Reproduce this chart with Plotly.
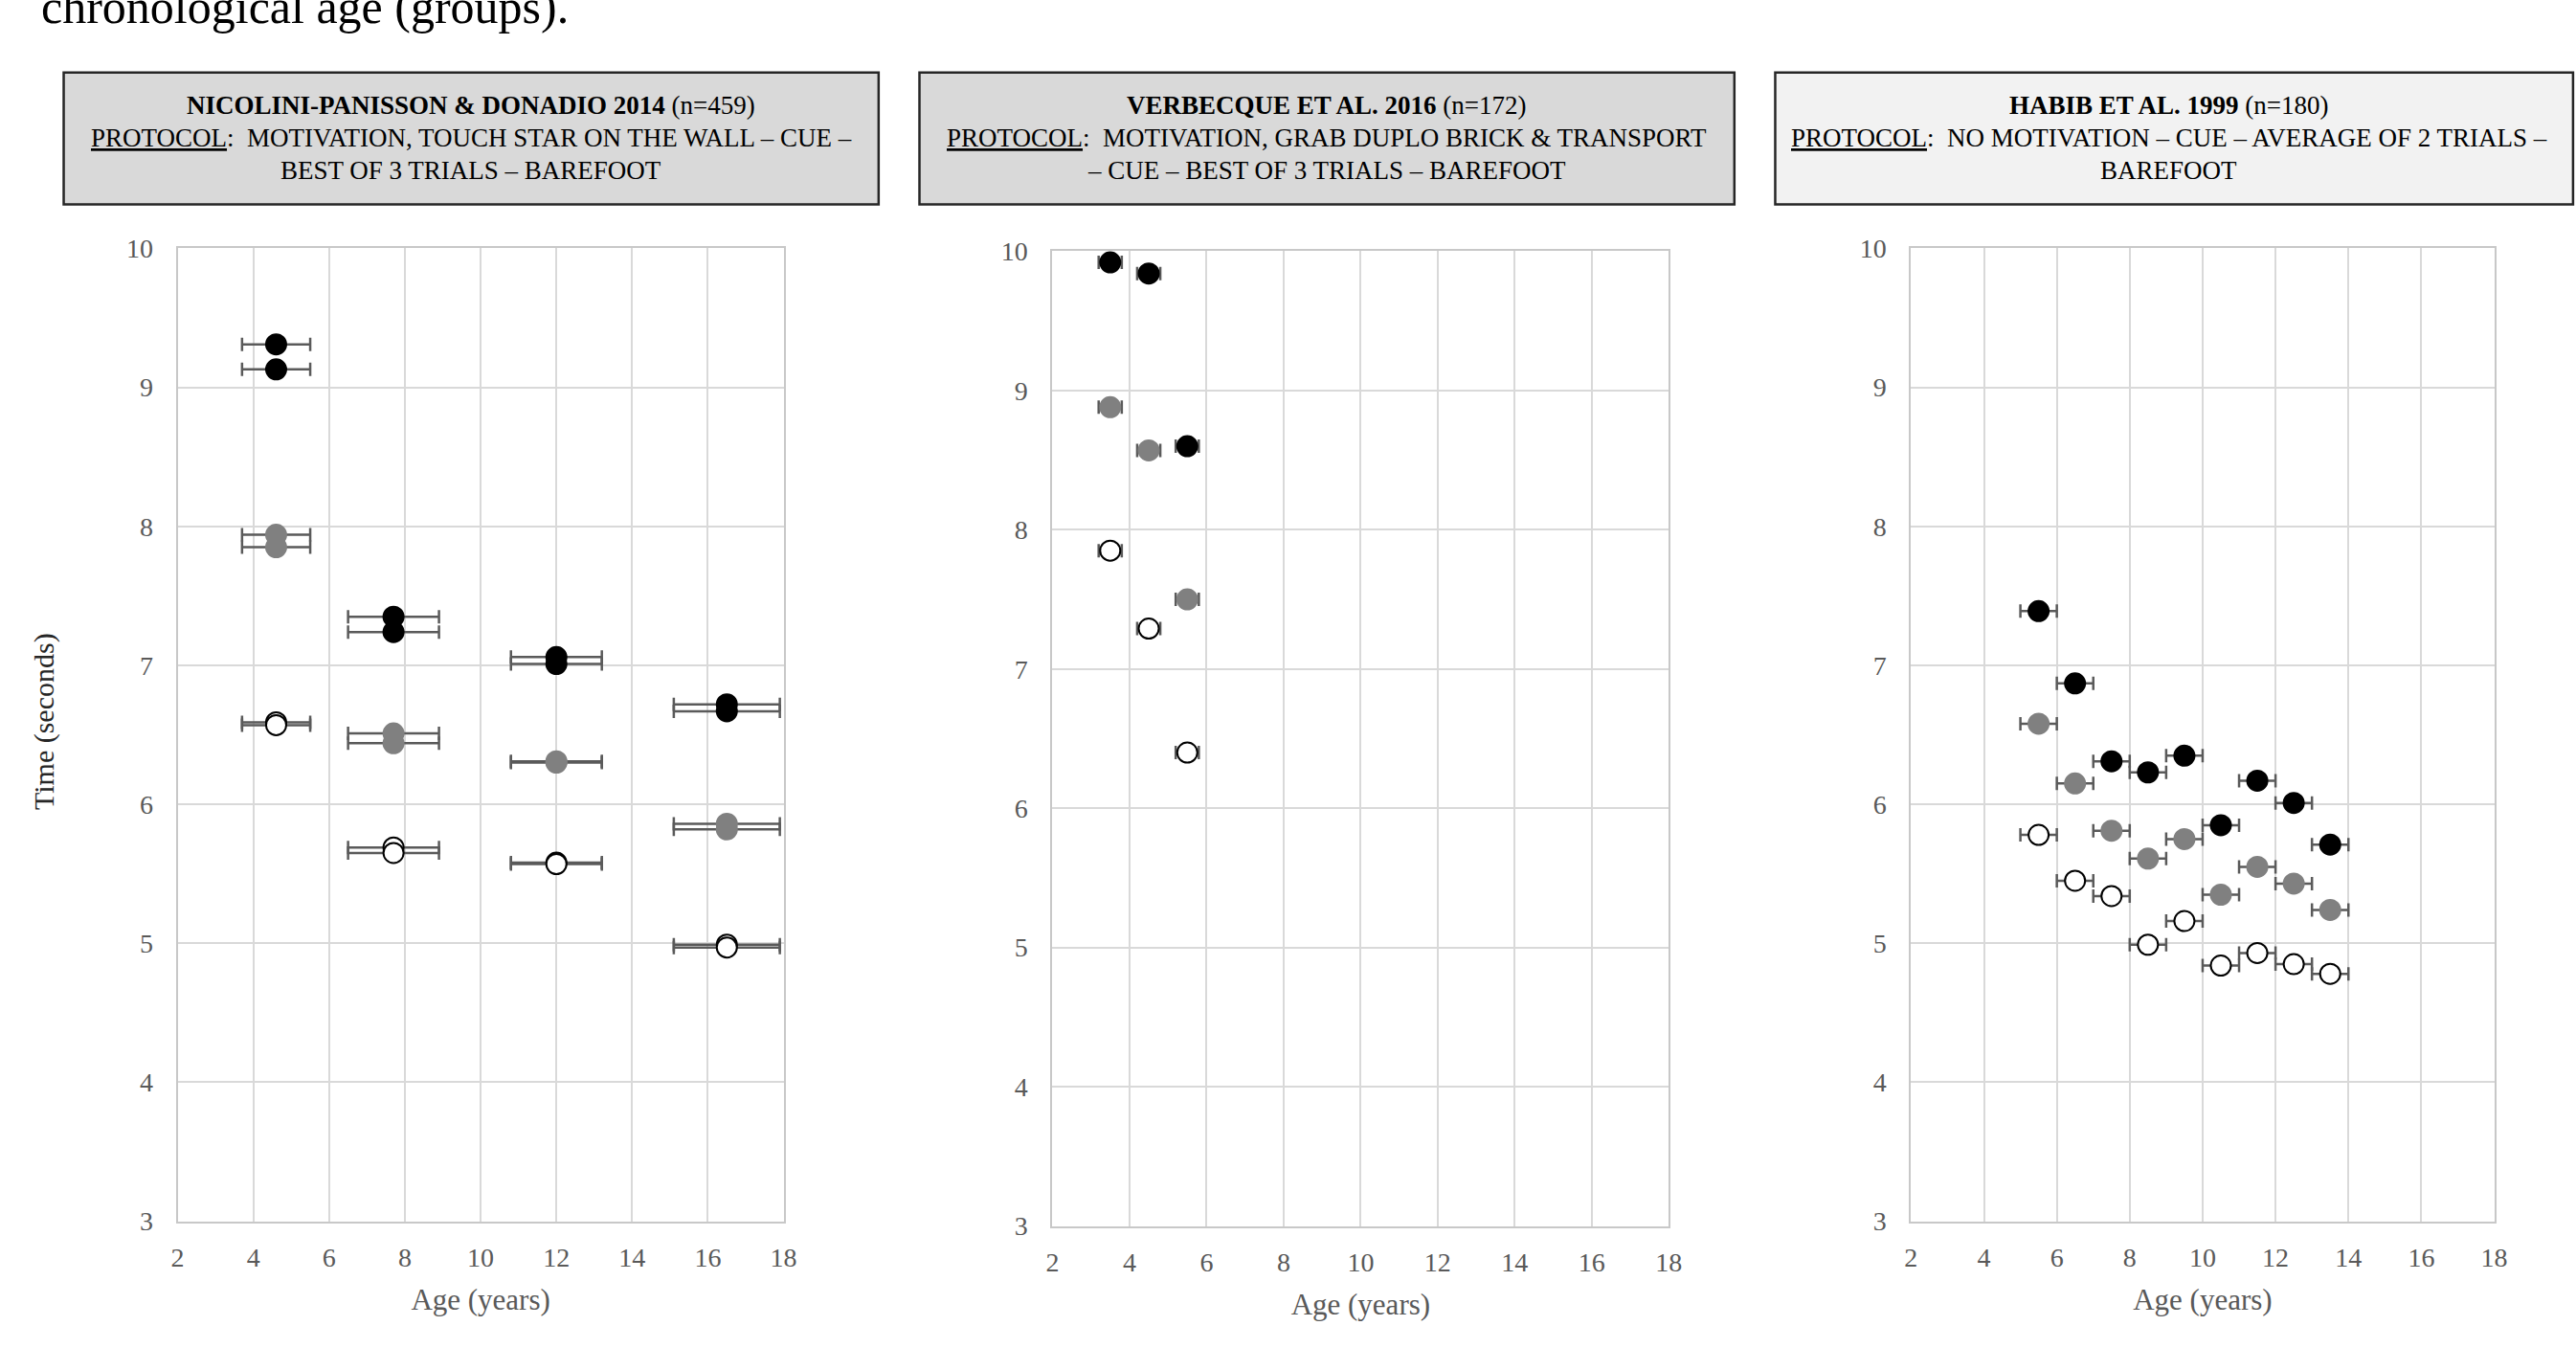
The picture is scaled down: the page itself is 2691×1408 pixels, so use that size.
import plotly.graph_objects as go

# ---- data ----
# panel 1: Nicolini-Panisson & Donadio 2014 (pairs of overlapping groups)
p1_age = [4.6, 4.6, 7.7, 7.7, 12.0, 12.0, 16.5, 16.5]
p1_age_err = [0.9, 0.9, 1.2, 1.2, 1.2, 1.2, 1.4, 1.4]
p1_black = [9.31, 9.13, 7.35, 7.24, 7.06, 7.01, 6.72, 6.67]
p1_gray = [7.94, 7.85, 6.51, 6.44, 6.31, 6.30, 5.86, 5.82]
p1_open = [6.59, 6.57, 5.69, 5.65, 5.58, 5.57, 4.99, 4.97]

# panel 2: Verbecque et al. 2016
p2_age = [3.5, 4.5, 5.5]
p2_age_err = [0.3, 0.3, 0.3]
p2_black = [9.92, 9.84, 8.60]
p2_gray = [8.88, 8.57, 7.50]
p2_open = [7.85, 7.29, 6.40]

# panel 3: Habib et al. 1999
p3_age = [5.5, 6.5, 7.5, 8.5, 9.5, 10.5, 11.5, 12.5, 13.5]
p3_age_err = [0.5, 0.5, 0.5, 0.5, 0.5, 0.5, 0.5, 0.5, 0.5]
p3_black = [7.39, 6.87, 6.31, 6.23, 6.35, 5.85, 6.17, 6.01, 5.71]
p3_gray = [6.58, 6.15, 5.81, 5.61, 5.75, 5.35, 5.55, 5.43, 5.24]
p3_open = [5.78, 5.45, 5.34, 4.99, 5.16, 4.84, 4.93, 4.85, 4.78]

x_ticks = [2, 4, 6, 8, 10, 12, 14, 16, 18]
y_ticks = [3, 4, 5, 6, 7, 8, 9, 10]

headers = [
    ("<b>NICOLINI-PANISSON & DONADIO 2014</b> (n=459)",
     "<u>PROTOCOL</u>:  MOTIVATION, TOUCH STAR ON THE WALL – CUE –",
     "BEST OF 3 TRIALS – BAREFOOT"),
    ("<b>VERBECQUE ET AL. 2016</b> (n=172)",
     "<u>PROTOCOL</u>:  MOTIVATION, GRAB DUPLO BRICK & TRANSPORT",
     "– CUE – BEST OF 3 TRIALS – BAREFOOT"),
    ("<b>HABIB ET AL. 1999</b> (n=180)",
     "<u>PROTOCOL</u>:  NO MOTIVATION – CUE – AVERAGE OF 2 TRIALS –",
     "BAREFOOT"),
]
header_fill = ["#d9d9d9", "#d9d9d9", "#f2f2f2"]

W, H = 2691, 1408
FONT = "Liberation Serif"

# pixel boxes of the three plot areas (left, right, top, bottom)
plot_px = [(180, 818, 250, 1289), (1101, 1750, 253, 1294), (2005, 2619, 250, 1289)]
box_px = [(60, 918, 62, 203), (961, 1819, 62, 203), (1862, 2702, 62, 203)]

panels = [
    (p1_age, p1_age_err, p1_black, p1_gray, p1_open),
    (p2_age, p2_age_err, p2_black, p2_gray, p2_open),
    (p3_age, p3_age_err, p3_black, p3_gray, p3_open),
]

fig = go.Figure()

for i, (age, err, blk, gry, opn) in enumerate(panels):
    xa = "x" if i == 0 else "x%d" % (i + 1)
    ya = "y" if i == 0 else "y%d" % (i + 1)
    for vals, fill in [(opn, "white"), (gry, "#808080"), (blk, "black")]:
        fig.add_trace(go.Scatter(
            x=age, y=vals, xaxis=xa, yaxis=ya, mode="markers",
            marker=dict(size=21, color=fill,
                        line=dict(color="black" if fill != "#808080" else "#808080", width=2)),
            error_x=dict(type="data", array=err, color="#5a5a5a", thickness=2.5, width=7),
            showlegend=False, cliponaxis=False,
        ))

layout = dict(
    width=W, height=H,
    margin=dict(l=0, r=0, t=0, b=0),
    paper_bgcolor="white", plot_bgcolor="white",
    font=dict(family=FONT, color="#595959"),
    shapes=[], annotations=[],
)

for i, (l, r, t, b) in enumerate(plot_px):
    sfx = "" if i == 0 else str(i + 1)
    layout["xaxis" + sfx] = dict(
        domain=[l / W, r / W], anchor="y" + sfx, range=[2, 18],
        tickvals=x_ticks, showgrid=True, gridcolor="#d9d9d9", gridwidth=2,
        showline=True, linecolor="#c8c8c8", linewidth=2, mirror=True,
        zeroline=False, ticks="", ticklabelstandoff=12,
        tickfont=dict(size=28, color="#595959", family=FONT),
        title=dict(text="Age (years)", standoff=18,
                   font=dict(size=31, color="#595959", family=FONT)),
    )
    layout["yaxis" + sfx] = dict(
        domain=[1 - b / H, 1 - t / H], anchor="x" + sfx, range=[3, 10],
        tickvals=y_ticks, showgrid=True, gridcolor="#d9d9d9", gridwidth=2,
        showline=True, linecolor="#c8c8c8", linewidth=2, mirror=True,
        zeroline=False, ticks="", ticklabelstandoff=18,
        tickfont=dict(size=28, color="#595959", family=FONT),
    )

# header boxes with the study / protocol text
for i, (l, r, t, b) in enumerate(box_px):
    layout["shapes"].append(dict(
        type="rect", xref="paper", yref="paper",
        x0=l / W, x1=r / W, y0=1 - b / H, y1=1 - t / H,
        fillcolor=header_fill[i], line=dict(color="#262626", width=2.5), layer="below",
    ))
    cx = (l + min(r, W)) / 2 / W
    for j, line in enumerate(headers[i]):
        layout["annotations"].append(dict(
            text=line, xref="paper", yref="paper", x=cx, y=1 - (97 + 35 * j) / H,
            xanchor="center", yanchor="middle", showarrow=False,
            font=dict(size=27, color="black", family=FONT),
        ))

# y axis title (only on the first panel)
layout["annotations"].append(dict(
    text="Time (seconds)", xref="paper", yref="paper", x=40 / W, y=1 - 755 / H,
    xanchor="center", yanchor="middle", textangle=-90, showarrow=False,
    font=dict(size=30, color="#262626", family=FONT),
))

# the figure caption cut off at the top of the picture
layout["annotations"].append(dict(
    text="chronological age (groups).", xref="paper", yref="paper", x=34 / W, y=1 - 23 / H,
    xanchor="left", yanchor="bottom", showarrow=False,
    font=dict(size=50, color="black", family=FONT),
))

fig.update_layout(**layout)
# page margin off so the figure sits at the window's corner
fig.write_html("out.html", config={"displayModeBar": False},
               post_script="document.body.style.margin='0px';")
